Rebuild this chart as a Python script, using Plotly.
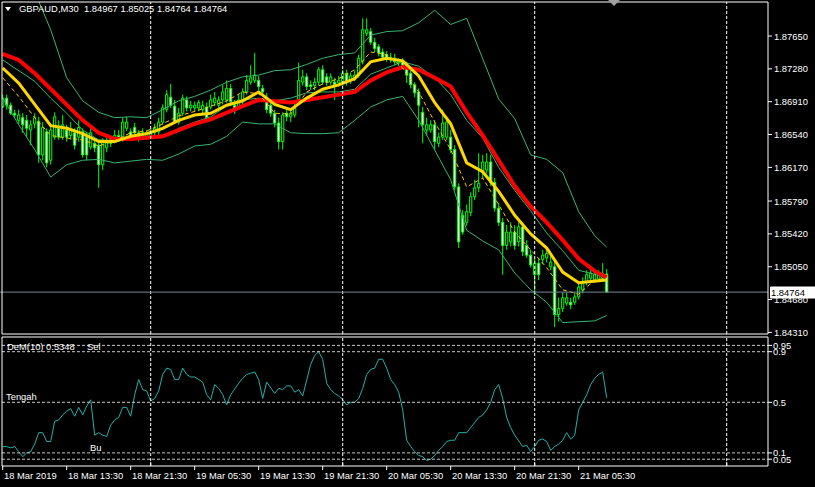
import pandas as pd
import plotly.graph_objects as go

W, H = 815, 487

SYMBOL = "GBPAUD,M30"
START = "2019-03-18 05:30"
N_BARS = 152

OPEN = [1.8685, 1.8695, 1.8687, 1.8678, 1.8670, 1.8673, 1.8670, 1.8659, 1.8666, 1.8669,
        1.8631, 1.8657, 1.8625, 1.8651, 1.8661, 1.8651, 1.8659, 1.8653, 1.8656, 1.8651,
        1.8657, 1.8651, 1.8640, 1.8644, 1.8642, 1.8620, 1.8639, 1.8648, 1.8648, 1.8653,
        1.8651, 1.8661, 1.8657, 1.8662, 1.8656, 1.8651, 1.8651, 1.8653, 1.8656, 1.8657,
        1.8668, 1.8682, 1.8696, 1.8686, 1.8668, 1.8678, 1.8693, 1.8684, 1.8684, 1.8684,
        1.8682, 1.8685, 1.8685, 1.8690, 1.8687, 1.8693, 1.8693, 1.8706, 1.8687, 1.8685,
        1.8691, 1.8702, 1.8713, 1.8715, 1.8715, 1.8706, 1.8696, 1.8687, 1.8678, 1.8667,
        1.8646, 1.8678, 1.8674, 1.8676, 1.8693, 1.8713, 1.8719, 1.8710, 1.8709, 1.8713,
        1.8727, 1.8719, 1.8713, 1.8713, 1.8712, 1.8713, 1.8723, 1.8715, 1.8718, 1.8721,
        1.8736, 1.8768, 1.8770, 1.8758, 1.8753, 1.8747, 1.8744, 1.8738, 1.8740, 1.8735,
        1.8736, 1.8732, 1.8723, 1.8710, 1.8702, 1.8679, 1.8659, 1.8659, 1.8665, 1.8644,
        1.8651, 1.8651, 1.8651, 1.8637, 1.8595, 1.8563, 1.8555, 1.8566, 1.8584, 1.8594,
        1.8611, 1.8614, 1.8623, 1.8600, 1.8571, 1.8555, 1.8529, 1.8533, 1.8544, 1.8533,
        1.8550, 1.8529, 1.8518, 1.8496, 1.8509, 1.8513, 1.8515, 1.8505, 1.8505, 1.8451,
        1.8458, 1.8464, 1.8465, 1.8465, 1.8471, 1.8479, 1.8488, 1.8492, 1.8490, 1.8491,
        1.8492, 1.84967]
HIGH = [1.8699, 1.8699, 1.8690, 1.8682, 1.8682, 1.8678, 1.8676, 1.8670, 1.8678, 1.8674,
        1.8668, 1.8661, 1.8665, 1.8679, 1.8670, 1.8676, 1.8665, 1.8668, 1.8661, 1.8670,
        1.8661, 1.8657, 1.8661, 1.8650, 1.8648, 1.8650, 1.8650, 1.8652, 1.8659, 1.8659,
        1.8673, 1.8674, 1.8661, 1.8667, 1.8659, 1.8661, 1.8659, 1.8661, 1.8666, 1.8673,
        1.8688, 1.8704, 1.8711, 1.8693, 1.8684, 1.8699, 1.8697, 1.8692, 1.8691, 1.8693,
        1.8692, 1.8690, 1.8699, 1.8702, 1.8697, 1.8710, 1.8715, 1.8711, 1.8693, 1.8699,
        1.8706, 1.8721, 1.8732, 1.8746, 1.8720, 1.8710, 1.8701, 1.8692, 1.8682, 1.8673,
        1.8679, 1.8684, 1.8684, 1.8690, 1.8735, 1.8727, 1.8723, 1.8715, 1.8718, 1.8730,
        1.8732, 1.8723, 1.8723, 1.8718, 1.8720, 1.8727, 1.8727, 1.8724, 1.8726, 1.8744,
        1.8785, 1.8785, 1.8774, 1.8763, 1.8756, 1.8751, 1.8748, 1.8746, 1.8745, 1.8740,
        1.8740, 1.8736, 1.8727, 1.8713, 1.8706, 1.8685, 1.8673, 1.8670, 1.8670, 1.8656,
        1.8682, 1.8673, 1.8659, 1.8642, 1.8599, 1.8569, 1.8575, 1.8589, 1.8603, 1.8633,
        1.8631, 1.8633, 1.8631, 1.8605, 1.8577, 1.8560, 1.8552, 1.8555, 1.8552, 1.8555,
        1.8555, 1.8535, 1.8524, 1.8515, 1.8515, 1.8524, 1.8526, 1.8518, 1.8510, 1.8470,
        1.8476, 1.8476, 1.8470, 1.8476, 1.8488, 1.8493, 1.8501, 1.8504, 1.8501, 1.8501,
        1.8509, 1.85025]
LOW = [1.8684, 1.8682, 1.8676, 1.8673, 1.8666, 1.8656, 1.8651, 1.8642, 1.8661, 1.8622,
       1.8625, 1.8617, 1.8620, 1.8648, 1.8648, 1.8648, 1.8646, 1.8648, 1.8637, 1.8646,
       1.8628, 1.8625, 1.8637, 1.8634, 1.8594, 1.8614, 1.8634, 1.8640, 1.8644, 1.8646,
       1.8646, 1.8658, 1.8647, 1.8651, 1.8646, 1.8648, 1.8648, 1.8650, 1.8652, 1.8653,
       1.8665, 1.8679, 1.8684, 1.8666, 1.8665, 1.8675, 1.8680, 1.8680, 1.8680, 1.8680,
       1.8678, 1.8668, 1.8682, 1.8686, 1.8684, 1.8688, 1.8690, 1.8686, 1.8677, 1.8682,
       1.8686, 1.8699, 1.8710, 1.8712, 1.8704, 1.8697, 1.8678, 1.8674, 1.8662, 1.8637,
       1.8637, 1.8669, 1.8668, 1.8673, 1.8690, 1.8709, 1.8704, 1.8704, 1.8704, 1.8709,
       1.8710, 1.8709, 1.8710, 1.8693, 1.8708, 1.8709, 1.8709, 1.8711, 1.8714, 1.8718,
       1.8733, 1.8765, 1.8755, 1.8747, 1.8742, 1.8738, 1.8736, 1.8735, 1.8732, 1.8731,
       1.8729, 1.8712, 1.8706, 1.8696, 1.8662, 1.8644, 1.8653, 1.8656, 1.8637, 1.8640,
       1.8648, 1.8648, 1.8633, 1.8591, 1.8526, 1.8541, 1.8551, 1.8562, 1.8580, 1.8589,
       1.8605, 1.8610, 1.8596, 1.8567, 1.8551, 1.8496, 1.8524, 1.8528, 1.8524, 1.8528,
       1.8517, 1.8515, 1.8504, 1.8473, 1.8490, 1.8508, 1.8510, 1.8501, 1.8437, 1.8443,
       1.8454, 1.8461, 1.8457, 1.8462, 1.8468, 1.8475, 1.8484, 1.8489, 1.8487, 1.8488,
       1.8489, 1.84764]
CLOSE = [1.8695, 1.8687, 1.8678, 1.8676, 1.8676, 1.8665, 1.8661, 1.8665, 1.8673, 1.8631,
         1.8662, 1.8622, 1.8659, 1.8674, 1.8651, 1.8665, 1.8651, 1.8659, 1.8642, 1.8662,
         1.8631, 1.8631, 1.8656, 1.8639, 1.8620, 1.8646, 1.8646, 1.8644, 1.8653, 1.8650,
         1.8668, 1.8668, 1.8651, 1.8656, 1.8651, 1.8656, 1.8656, 1.8657, 1.8661, 1.8668,
         1.8684, 1.8699, 1.8687, 1.8668, 1.8678, 1.8695, 1.8684, 1.8687, 1.8687, 1.8690,
         1.8687, 1.8673, 1.8693, 1.8695, 1.8693, 1.8702, 1.8706, 1.8691, 1.8682, 1.8693,
         1.8702, 1.8715, 1.8718, 1.8721, 1.8708, 1.8702, 1.8682, 1.8678, 1.8667, 1.8646,
         1.8676, 1.8674, 1.8678, 1.8684, 1.8715, 1.8719, 1.8708, 1.8708, 1.8713, 1.8727,
         1.8713, 1.8713, 1.8719, 1.8710, 1.8715, 1.8723, 1.8713, 1.8720, 1.8721, 1.8740,
         1.8772, 1.8772, 1.8758, 1.8751, 1.8746, 1.8741, 1.8739, 1.8741, 1.8736, 1.8737,
         1.8732, 1.8721, 1.8710, 1.8701, 1.8687, 1.8665, 1.8665, 1.8665, 1.8646, 1.8651,
         1.8667, 1.8668, 1.8637, 1.8595, 1.8533, 1.8544, 1.8567, 1.8584, 1.8594, 1.8599,
         1.8623, 1.8623, 1.8600, 1.8571, 1.8555, 1.8529, 1.8544, 1.8544, 1.8529, 1.8550,
         1.8522, 1.8518, 1.8507, 1.8509, 1.8496, 1.8518, 1.8520, 1.8510, 1.8451, 1.8458,
         1.8470, 1.8470, 1.8462, 1.8471, 1.8482, 1.8488, 1.8496, 1.8498, 1.8496, 1.8496,
         1.8497, 1.84764]

# indicator lines, read at these bar indices
LINE_BARS = [0, 4, 8, 12, 16, 20, 24, 28, 32, 36, 40, 44, 48, 52, 56, 60, 64, 68, 72, 76,
             80, 84, 88, 92, 96, 100, 104, 108, 112, 116, 120, 124, 128, 132, 136, 140,
             144, 148, 151]
MA_RED = [1.8745, 1.8738, 1.8723, 1.8705, 1.8688, 1.8670, 1.8656, 1.8649, 1.8649, 1.8650,
          1.8652, 1.8659, 1.8666, 1.8671, 1.8679, 1.8686, 1.8693, 1.8692, 1.8690, 1.8693,
          1.8696, 1.8700, 1.8702, 1.8715, 1.8724, 1.8730, 1.8727, 1.8718, 1.8708, 1.8679,
          1.8653, 1.8625, 1.8596, 1.8573, 1.8555, 1.8535, 1.8514, 1.8500, 1.8493]
MA_YELLOW = [1.8729, 1.8712, 1.8688, 1.8664, 1.8661, 1.8655, 1.8646, 1.8646, 1.8652, 1.8655,
             1.8661, 1.8670, 1.8676, 1.8678, 1.8687, 1.8692, 1.8702, 1.8688, 1.8682, 1.8695,
             1.8705, 1.8710, 1.8717, 1.8736, 1.8740, 1.8737, 1.8720, 1.8690, 1.8666, 1.8622,
             1.8612, 1.8590, 1.8563, 1.8542, 1.8526, 1.8499, 1.8487, 1.8489, 1.8490]
MA_FAST = [1.8718, 1.8697, 1.8673, 1.8653, 1.8650, 1.8648, 1.8641, 1.8647, 1.8656, 1.8658,
           1.8666, 1.8675, 1.8680, 1.8686, 1.8692, 1.8702, 1.8700, 1.8678, 1.8677, 1.8702,
           1.8711, 1.8717, 1.8727, 1.8747, 1.8744, 1.8729, 1.8702, 1.8668, 1.8637, 1.8595,
           1.8605, 1.8575, 1.8544, 1.8524, 1.8504, 1.8479, 1.8474, 1.8490, 1.8492]
BB_UPPER = [1.8885, 1.8851, 1.8815, 1.8772, 1.8718, 1.8692, 1.8679, 1.8673, 1.8674, 1.8673,
            1.8682, 1.8692, 1.8697, 1.8704, 1.8713, 1.8719, 1.8721, 1.8726, 1.8727, 1.8733,
            1.8740, 1.8744, 1.8746, 1.8766, 1.8770, 1.8771, 1.8780, 1.8794, 1.8778, 1.8785,
            1.8739, 1.8694, 1.8672, 1.8631, 1.8626, 1.8611, 1.8567, 1.8540, 1.8527]
BB_MID = [1.8738, 1.8726, 1.8714, 1.8695, 1.8678, 1.8659, 1.8648, 1.8647, 1.8650, 1.8651,
          1.8652, 1.8661, 1.8668, 1.8674, 1.8686, 1.8693, 1.8695, 1.8692, 1.8695, 1.8701,
          1.8702, 1.8702, 1.8705, 1.8722, 1.8729, 1.8736, 1.8731, 1.8718, 1.8699, 1.8670,
          1.8650, 1.8617, 1.8591, 1.8568, 1.8543, 1.8523, 1.8501, 1.8496, 1.8493]
BB_LOWER = [1.8695, 1.8665, 1.8637, 1.8606, 1.8620, 1.8625, 1.8626, 1.8622, 1.8624, 1.8626,
            1.8625, 1.8632, 1.8641, 1.8643, 1.8652, 1.8668, 1.8666, 1.8666, 1.8656, 1.8655,
            1.8655, 1.8656, 1.8670, 1.8685, 1.8693, 1.8697, 1.8670, 1.8637, 1.8603, 1.8546,
            1.8534, 1.8524, 1.8498, 1.8479, 1.8465, 1.8442, 1.8443, 1.8444, 1.8450]

DEM = [0.15, 0.15, 0.14, 0.15, 0.11, 0.07, 0.10, 0.11, 0.17, 0.26,
       0.26, 0.19, 0.19, 0.35, 0.36, 0.40, 0.43, 0.45, 0.39, 0.46,
       0.40, 0.47, 0.52, 0.24, 0.26, 0.24, 0.23, 0.32, 0.36, 0.38,
       0.46, 0.46, 0.39, 0.56, 0.68, 0.60, 0.59, 0.51, 0.53, 0.59,
       0.72, 0.77, 0.76, 0.68, 0.68, 0.77, 0.72, 0.70, 0.70, 0.68,
       0.66, 0.56, 0.52, 0.64, 0.61, 0.56, 0.48, 0.56, 0.61, 0.65,
       0.69, 0.72, 0.73, 0.74, 0.68, 0.53, 0.66, 0.61, 0.57, 0.61,
       0.60, 0.63, 0.63, 0.58, 0.60, 0.55, 0.68, 0.80, 0.87, 0.90,
       0.84, 0.65, 0.60, 0.57, 0.55, 0.52, 0.48, 0.50, 0.50, 0.53,
       0.61, 0.72, 0.76, 0.77, 0.84, 0.84, 0.77, 0.68, 0.64, 0.58,
       0.44, 0.20, 0.15, 0.11, 0.08, 0.07, 0.04, 0.05, 0.08, 0.12,
       0.15, 0.19, 0.20, 0.20, 0.26, 0.26, 0.26, 0.30, 0.34, 0.38,
       0.40, 0.44, 0.50, 0.60, 0.64, 0.53, 0.38, 0.30, 0.24, 0.19,
       0.15, 0.16, 0.11, 0.15, 0.20, 0.21, 0.19, 0.12, 0.15, 0.17,
       0.20, 0.26, 0.21, 0.24, 0.44, 0.50, 0.56, 0.64, 0.69, 0.72,
       0.74, 0.5348]
DEM_LABEL = "DeM(10) 0.5348"
DEM_LEVELS = [0.95, 0.9, 0.5, 0.1, 0.05]
DEM_LEVEL_TEXT = ["0.95", "0.9", "0.5", "0.1", "0.05"]
LEVEL_NAMES = [("Sel", 0.9, 85), ("Tengah", 0.5, 4), ("Bu", 0.1, 88)]

PRICE_TICKS = [1.87650, 1.87280, 1.86910, 1.86540, 1.86170, 1.85790, 1.85420, 1.85050,
               1.84680, 1.84310]
TIME_TICK_BARS = [0, 16, 32, 48, 64, 80, 96, 112, 128, 144]
TIME_TICK_LABELS = ["18 Mar 2019", "18 Mar 13:30", "18 Mar 21:30", "19 Mar 05:30",
                    "19 Mar 13:30", "19 Mar 21:30", "20 Mar 05:30", "20 Mar 13:30",
                    "20 Mar 21:30", "21 Mar 05:30"]
DAY_GRID = ["2019-03-19 00:00", "2019-03-20 00:00", "2019-03-21 00:00", "2019-03-22 00:00"]

# ---------------------------------------------------------------- layout geometry
FONT = "Liberation Sans, Arial, sans-serif"
FS = 9.4
GREEN = "#00FF00"
BAND = "#3CB371"


def PX(x):
    return x / W


def PY(y):
    return 1 - y / H


PLOT_L, PLOT_R = 2, 768
MAIN_T, MAIN_B = 2, 334
IND_T, IND_B = 337, 466

times = pd.date_range(START, periods=N_BARS, freq="30min")
BAR = pd.Timedelta(minutes=30)
x_left = times[0] + BAR * ((PLOT_L - 2.7) / 4)
x_right = x_left + BAR * ((PLOT_R - PLOT_L) / 4)

# price range: pixel y -> price  (1.87650 at y=36, 0.0001127 per px)
P_TOP = 1.88056 - 0.0001127 * MAIN_T
P_BOT = 1.88056 - 0.0001127 * MAIN_B
D_TOP = 0.5 + (402.3 - IND_T) / 126.5
D_BOT = 0.5 + (402.3 - IND_B) / 126.5

fig = go.Figure()

# candle bodies
base = [min(o, c) for o, c in zip(OPEN, CLOSE)]
height = [max(abs(c - o), 0.00002) for o, c in zip(OPEN, CLOSE)]
colors = ["white" if c < o else "black" for o, c in zip(OPEN, CLOSE)]
fig.add_trace(go.Bar(x=times, y=height, base=base, width=BAR.total_seconds() * 1000 * 0.55,
                     marker=dict(color=colors, line=dict(color=GREEN, width=1)),
                     xaxis="x", yaxis="y", hoverinfo="skip"))

# wicks (outside the bodies)
wx, wy = [], []
for t, o, h, l, c in zip(times, OPEN, HIGH, LOW, CLOSE):
    top, bot = max(o, c), min(o, c)
    if h > top:
        wx += [t, t, None]
        wy += [h, top, None]
    if l < bot:
        wx += [t, t, None]
        wy += [bot, l, None]
fig.add_trace(go.Scatter(x=wx, y=wy, mode="lines", line=dict(color=GREEN, width=1),
                         xaxis="x", yaxis="y", hoverinfo="skip"))

lt = [times[i] for i in LINE_BARS]
for vals, col, w, dash in [(BB_UPPER, BAND, 1, "solid"), (BB_MID, BAND, 1, "solid"),
                           (BB_LOWER, BAND, 1, "solid"), (MA_RED, "#FF0000", 4, "solid"),
                           (MA_YELLOW, "#FFD700", 3, "solid"),
                           (MA_FAST, "#FFC800", 1, "4px,3px")]:
    fig.add_trace(go.Scatter(x=lt, y=vals, mode="lines",
                             line=dict(color=col, width=w, dash=dash),
                             xaxis="x", yaxis="y", hoverinfo="skip"))

fig.add_trace(go.Scatter(x=times, y=DEM, mode="lines", line=dict(color="#20B2AA", width=1),
                         xaxis="x2", yaxis="y2", hoverinfo="skip"))

shapes = []
ann = []
# vertical day grid
for d in DAY_GRID:
    for (t, b) in [(MAIN_T, MAIN_B), (IND_T, IND_B)]:
        shapes.append(dict(type="line", xref="x", yref="paper", x0=d, x1=d,
                           y0=PY(b), y1=PY(t), line=dict(color="white", width=1, dash="3px,2px")))
# DeM level lines
for lv in DEM_LEVELS:
    shapes.append(dict(type="line", xref="paper", yref="y2", x0=PX(PLOT_L), x1=PX(PLOT_R),
                       y0=lv, y1=lv, line=dict(color="#C8C8C8", width=1, dash="3px,2px")))
# current price line
shapes.append(dict(type="line", xref="paper", yref="y", x0=0, x1=PX(PLOT_R),
                   y0=CLOSE[-1], y1=CLOSE[-1], line=dict(color="#778899", width=1)))
# panel borders
for (t, b) in [(MAIN_T, MAIN_B), (IND_T, IND_B)]:
    shapes.append(dict(type="rect", xref="paper", yref="paper", x0=PX(PLOT_L), x1=PX(PLOT_R),
                       y0=PY(b), y1=PY(t), line=dict(color="white", width=1)))
# price axis ticks
for p in PRICE_TICKS:
    shapes.append(dict(type="line", xref="paper", yref="y", x0=PX(PLOT_R), x1=PX(PLOT_R + 4),
                       y0=p, y1=p, line=dict(color="white", width=1)))
for lv in DEM_LEVELS:
    shapes.append(dict(type="line", xref="paper", yref="y2", x0=PX(PLOT_R), x1=PX(PLOT_R + 4),
                       y0=lv, y1=lv, line=dict(color="white", width=1)))
# time axis ticks
for i in TIME_TICK_BARS:
    shapes.append(dict(type="line", xref="x", yref="paper", x0=times[i], x1=times[i],
                       y0=PY(IND_B + 4), y1=PY(IND_B), line=dict(color="white", width=1)))
for d in DAY_GRID:
    shapes.append(dict(type="line", xref="x", yref="paper", x0=d, x1=d,
                       y0=PY(IND_B), y1=PY(IND_B - 4), line=dict(color="white", width=1)))
# title triangle and chart-shift marker
shapes.append(dict(type="path", xref="paper", yref="paper",
                   path=f"M {PX(5)} {PY(7)} L {PX(11)} {PY(7)} L {PX(8)} {PY(11)} Z",
                   fillcolor="white", line=dict(width=0)))
shapes.append(dict(type="path", xref="paper", yref="paper",
                   path=f"M {PX(608)} {PY(0)} L {PX(620)} {PY(0)} L {PX(614)} {PY(6)} Z",
                   fillcolor="#A0A0A0", line=dict(width=0)))
# current price box (behind its label)
shapes.append(dict(type="rect", xref="paper", yref="paper", x0=PX(770), x1=PX(815),
                   y0=PY(298), y1=PY(287), fillcolor="white", line=dict(width=0)))

fnt = dict(family=FONT, size=FS, color="white")
ann.append(dict(text=f"{SYMBOL}  {OPEN[-1]:.5f} {HIGH[-1]:.5f} {LOW[-1]:.5f} {CLOSE[-1]:.5f}",
                xref="paper", yref="paper", x=PX(17), y=PY(9), xanchor="left", yanchor="middle",
                showarrow=False, font=fnt))
for p in PRICE_TICKS:
    ann.append(dict(text=f"{p:.5f}", xref="paper", yref="y", x=PX(772), y=p, xanchor="left",
                    yanchor="middle", showarrow=False, font=fnt))
ann.append(dict(text=f"{CLOSE[-1]:.5f}", xref="paper", yref="paper", x=PX(770), y=PY(292.5),
                xanchor="left", yanchor="middle", showarrow=False, bgcolor="white",
                width=44, height=11, align="left", borderpad=0,
                font=dict(family=FONT, size=FS, color="black")))
for lv, tx in zip(DEM_LEVELS, DEM_LEVEL_TEXT):
    ann.append(dict(text=tx, xref="paper", yref="y2", x=PX(771), y=lv, xanchor="left",
                    yanchor="middle", showarrow=False, font=fnt))
ann.append(dict(text=DEM_LABEL, xref="paper", yref="paper", x=PX(5), y=PY(346),
                xanchor="left", yanchor="middle", showarrow=False, font=fnt))
for name, lv, xp in LEVEL_NAMES:
    ann.append(dict(text=name, xref="paper", yref="y2", x=PX(xp), y=lv, xanchor="left",
                    yanchor="bottom", yshift=-2, showarrow=False, font=fnt))
for i, lab in zip(TIME_TICK_BARS, TIME_TICK_LABELS):
    ann.append(dict(text=lab, xref="x", yref="paper", x=times[i], y=PY(475), xanchor="left",
                    yanchor="middle", xshift=-1, showarrow=False, font=fnt))

ax = dict(range=[x_left, x_right], visible=False, showgrid=False, zeroline=False)
fig.update_layout(
    width=W, height=H, margin=dict(l=0, r=0, t=0, b=0),
    paper_bgcolor="black", plot_bgcolor="black", showlegend=False, barmode="overlay",
    xaxis=dict(domain=[PX(PLOT_L), PX(PLOT_R)], anchor="y", **ax),
    xaxis2=dict(domain=[PX(PLOT_L), PX(PLOT_R)], anchor="y2", matches="x", **ax),
    yaxis=dict(domain=[PY(MAIN_B), PY(MAIN_T)], range=[P_BOT, P_TOP], visible=False,
               showgrid=False, zeroline=False),
    yaxis2=dict(domain=[PY(IND_B), PY(IND_T)], range=[D_BOT, D_TOP], visible=False,
                showgrid=False, zeroline=False),
    shapes=shapes, annotations=ann,
)
fig.write_html("out.html", config={"displayModeBar": False},
               post_script="document.body.style.margin='0px';"
                           "document.body.style.background='black';")
